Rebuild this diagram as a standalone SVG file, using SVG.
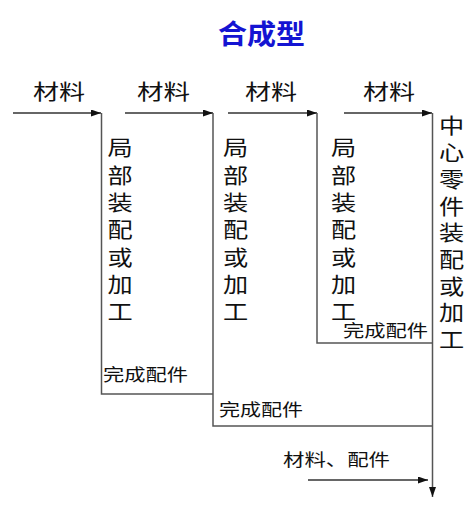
<svg xmlns="http://www.w3.org/2000/svg" width="474" height="508" viewBox="0 0 474 508">
  <style>
    .t { font-family: "Noto Sans CJK SC", "Liberation Sans", sans-serif; fill: #111; }
    .big { font-size: 21px; }
    .small { font-size: 17px; }
    .v { font-size: 21px; writing-mode: tb; }
    .title { font-family: "Noto Sans CJK SC", "Liberation Sans", sans-serif; font-size: 27px; font-weight: bold; fill: #1414d2; }
    .ln { fill: none; stroke: #555; stroke-width: 1.5; }
    .ar { fill: none; stroke: #333; stroke-width: 1.5; }
  </style>
  <defs>
    <marker id="ah" viewBox="0 0 10 7" refX="10" refY="3.5" markerWidth="10" markerHeight="7" markerUnits="userSpaceOnUse" orient="auto">
      <path d="M0,0 L10,3.5 L0,7 z" fill="#111"/>
    </marker>
  </defs>
  <rect width="474" height="508" fill="#fff"/>

  <g id="title">
    <text class="title" x="218" y="44" textLength="87" lengthAdjust="spacingAndGlyphs">合成型</text>
  </g>

  <g id="connectors">
    <path class="ar" d="M13,113 H101" marker-end="url(#ah)"/>
    <path class="ar" d="M125,113 H213" marker-end="url(#ah)"/>
    <path class="ar" d="M228,113 H317" marker-end="url(#ah)"/>
    <path class="ar" d="M344,113 H432" marker-end="url(#ah)"/>
    <path class="ln" d="M101.5,113 V394 H213"/>
    <path class="ln" d="M213,113 V426 H432"/>
    <path class="ln" d="M317,113 V343 H432"/>
    <path class="ln" d="M432.5,113 V497" marker-end="url(#ah)"/>
    <path class="ar" d="M308,480 H428" marker-end="url(#ah)"/>
  </g>

  <g id="labels-material">
    <text class="t big" x="33" y="98.5" textLength="52" lengthAdjust="spacingAndGlyphs">材料</text>
    <text class="t big" x="137" y="98.5" textLength="53" lengthAdjust="spacingAndGlyphs">材料</text>
    <text class="t big" x="245" y="98.5" textLength="52" lengthAdjust="spacingAndGlyphs">材料</text>
    <text class="t big" x="363" y="98.5" textLength="52" lengthAdjust="spacingAndGlyphs">材料</text>
  </g>

  <g id="node-step1" transform="translate(120,0) scale(1.2,1)">
    <text class="t v" x="0" y="137" letter-spacing="6.3">局部装配或加工</text>
  </g>

  <g id="node-step2" transform="translate(235.5,0) scale(1.2,1)">
    <text class="t v" x="0" y="137" letter-spacing="6.3">局部装配或加工</text>
  </g>

  <g id="node-step3" transform="translate(343.5,0) scale(1.2,1)">
    <text class="t v" x="0" y="137" letter-spacing="6.3">局部装配或加工</text>
  </g>

  <g id="node-center" transform="translate(451.5,0) scale(1.2,1)">
    <text class="t v" x="0" y="115" letter-spacing="5.7">中心零件装配或加工</text>
  </g>

  <g id="labels-parts">
    <text class="t small" x="103" y="381" textLength="85" lengthAdjust="spacingAndGlyphs">完成配件</text>
    <text class="t small" x="219" y="416" textLength="84" lengthAdjust="spacingAndGlyphs">完成配件</text>
    <text class="t small" x="343" y="337" textLength="85" lengthAdjust="spacingAndGlyphs">完成配件</text>
    <text class="t small" x="283" y="466" textLength="107" lengthAdjust="spacingAndGlyphs">材料、配件</text>
  </g>
</svg>
